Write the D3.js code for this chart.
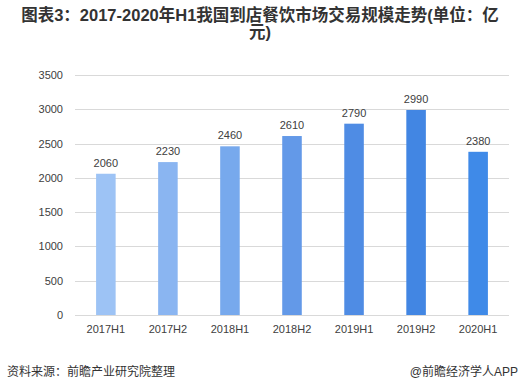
<!DOCTYPE html>
<html>
<head>
<meta charset="utf-8">
<script src="https://cdn.jsdelivr.net/npm/d3@7"></script>
<style>
  body { margin: 0; background: #fff; }
  svg { display: block; }
  text { font-family: "Liberation Sans", "Noto Sans CJK SC", sans-serif; }
</style>
</head>
<body>
<svg id="chart" width="520" height="391"></svg>
<script>
// 2017-2020H1 到店餐饮市场交易规模 (亿元)

var periods = ["2017H1", "2017H2", "2018H1", "2018H2", "2019H1", "2019H2", "2020H1"];
var scale = [2060, 2230, 2460, 2610, 2790, 2990, 2380];
var barColors = ["#9dc3f5", "#8ab5f1", "#77a9ed", "#6399e8", "#4f8ce4", "#4286e3", "#3f8ae8"];
var yTicks = [0, 500, 1000, 1500, 2000, 2500, 3000, 3500];

var svg = d3.select("#chart");
var plotLeft = 75, plotRight = 509, plotTop = 75, plotBottom = 315;

var x = d3.scaleBand()
  .domain(periods)
  .range([plotLeft, plotRight])
  .paddingInner(0.685)
  .paddingOuter(0.34);

var y = d3.scaleLinear()
  .domain([0, 3500])
  .range([plotBottom, plotTop]);

///////////////////////////////////////////////////////////////////////////////
// Title

var title = svg.append("text")
  .attr("text-anchor", "middle")
  .attr("font-size", 16.5)
  .attr("font-weight", "bold")
  .attr("fill", "#333");
title.append("tspan").attr("x", 260).attr("y", 21)
  .text("图表3：2017-2020年H1我国到店餐饮市场交易规模走势(单位：亿");
title.append("tspan").attr("x", 260).attr("y", 38).text("元)");

///////////////////////////////////////////////////////////////////////////////
// Grid and axes

svg.append("g").selectAll("line")
  .data(yTicks)
  .enter().append("line")
  .attr("x1", plotLeft).attr("x2", plotRight)
  .attr("y1", function (d) { return Math.round(y(d)) + 0.5; })
  .attr("y2", function (d) { return Math.round(y(d)) + 0.5; })
  .attr("stroke", "#d9d9d9");

var yAxis = svg.append("g")
  .attr("transform", "translate(" + (plotLeft - 12) + ",0)")
  .call(d3.axisLeft(y).tickValues(yTicks).tickSize(0).tickPadding(0).tickFormat(d3.format("d")));
yAxis.select(".domain").remove();
yAxis.selectAll("text").attr("font-size", 11).attr("fill", "#404040")
  .attr("font-family", "Liberation Sans, sans-serif");

var xAxis = svg.append("g")
  .attr("transform", "translate(0," + plotBottom + ")")
  .call(d3.axisBottom(x).tickSize(0).tickPadding(10));
xAxis.select(".domain").remove();
xAxis.selectAll("text").attr("font-size", 11).attr("fill", "#404040")
  .attr("font-family", "Liberation Sans, sans-serif");

///////////////////////////////////////////////////////////////////////////////
// Bars and labels

svg.append("g").selectAll("rect")
  .data(scale)
  .enter().append("rect")
  .attr("x", function (d, i) { return x(periods[i]); })
  .attr("y", function (d) { return y(d); })
  .attr("width", x.bandwidth())
  .attr("height", function (d) { return plotBottom - y(d); })
  .attr("fill", function (d, i) { return barColors[i]; });

svg.append("g").selectAll("text")
  .data(scale)
  .enter().append("text")
  .attr("x", function (d, i) { return x(periods[i]) + x.bandwidth() / 2; })
  .attr("y", function (d) { return y(d) - 7; })
  .attr("text-anchor", "middle")
  .attr("font-size", 11)
  .attr("fill", "#404040")
  .text(function (d) { return d; });

///////////////////////////////////////////////////////////////////////////////
// Footer

svg.append("text")
  .attr("x", 7).attr("y", 376)
  .attr("font-size", 12).attr("fill", "#333")
  .text("资料来源：前瞻产业研究院整理");

svg.append("text")
  .attr("x", 518).attr("y", 376)
  .attr("text-anchor", "end")
  .attr("font-size", 12).attr("fill", "#333")
  .text("@前瞻经济学人APP");
</script>
</body>
</html>
